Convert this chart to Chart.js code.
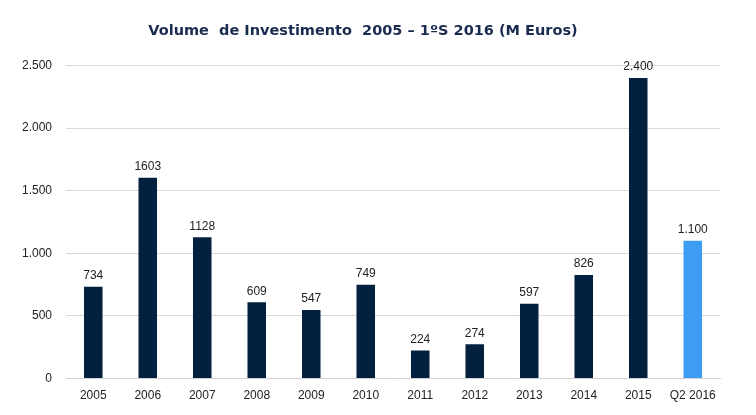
<!DOCTYPE html>
<html>
<head>
<meta charset="utf-8">
<script src="https://cdn.jsdelivr.net/npm/chart.js@4/dist/chart.umd.min.js"></script>
<style>
  html, body { margin: 0; padding: 0; background: #ffffff; }
  #wrap { width: 756px; height: 415px; position: relative; }
</style>
</head>
<body>
<div id="wrap"><canvas id="c" width="756" height="415"></canvas></div>
<script>
const categories = ['2005','2006','2007','2008','2009','2010','2011','2012','2013','2014','2015','Q2 2016'];
const values = [734, 1603, 1128, 609, 547, 749, 224, 274, 597, 826, 2400, 1100];
const valueLabels = ['734','1603','1128','609','547','749','224','274','597','826','2.400','1.100'];
const yTicks = [0, 500, 1000, 1500, 2000, 2500];
const yTickLabels = ['0', '500', '1.000', '1.500', '2.000', '2.500'];
const titleText = 'Volume  de Investimento  2005 – 1ºS 2016 (M Euros)';

const barColors = categories.map((c, i) => i === categories.length - 1 ? '#3d9df3' : '#03203f');

const valueLabelPlugin = {
  id: 'valueLabels',
  afterDatasetsDraw(chart) {
    const ctx = chart.ctx;
    const meta = chart.getDatasetMeta(0);
    ctx.save();
    ctx.font = '12px "Liberation Sans", Arial, sans-serif';
    ctx.fillStyle = '#222222';
    ctx.textAlign = 'center';
    ctx.textBaseline = 'bottom';
    meta.data.forEach((bar, i) => {
      ctx.fillText(valueLabels[i], bar.x, bar.y - 5);
    });
    ctx.restore();
  }
};

new Chart(document.getElementById('c'), {
  type: 'bar',
  data: {
    labels: categories,
    datasets: [{
      data: values,
      backgroundColor: barColors,
      borderWidth: 0,
      categoryPercentage: 1.0,
      barPercentage: 0.34
    }]
  },
  options: {
    responsive: false,
    animation: false,
    devicePixelRatio: 1,
    layout: { padding: { left: 6, right: 36, top: 4, bottom: 2 } },
    plugins: {
      legend: { display: false },
      tooltip: { enabled: false },
      title: {
        display: true,
        text: titleText,
        color: '#1a2b50',
        font: { family: '"DejaVu Sans", Verdana, sans-serif', size: 14.5, weight: 'bold' },
        padding: { top: 19, bottom: 25 }
      }
    },
    scales: {
      x: {
        grid: { display: false, drawTicks: false },
        border: { display: true, color: '#d0d0d0', width: 1 },
        ticks: {
          color: '#222222',
          font: { family: '"Liberation Sans", Arial, sans-serif', size: 12 },
          padding: 10,
          maxRotation: 0,
          autoSkip: false
        }
      },
      y: {
        min: 0,
        max: 2500,
        afterBuildTicks(axis) { axis.ticks = yTicks.map(v => ({ value: v })); },
        afterFit(axis) { axis.width = 60; },
        grid: { color: '#d9d9d9', drawTicks: false },
        border: { display: false },
        ticks: {
          color: '#222222',
          font: { family: '"Liberation Sans", Arial, sans-serif', size: 12 },
          padding: 14,
          callback(value) {
            const i = yTicks.indexOf(value);
            return i >= 0 ? yTickLabels[i] : '';
          }
        }
      }
    }
  },
  plugins: [valueLabelPlugin]
});
</script>
</body>
</html>
